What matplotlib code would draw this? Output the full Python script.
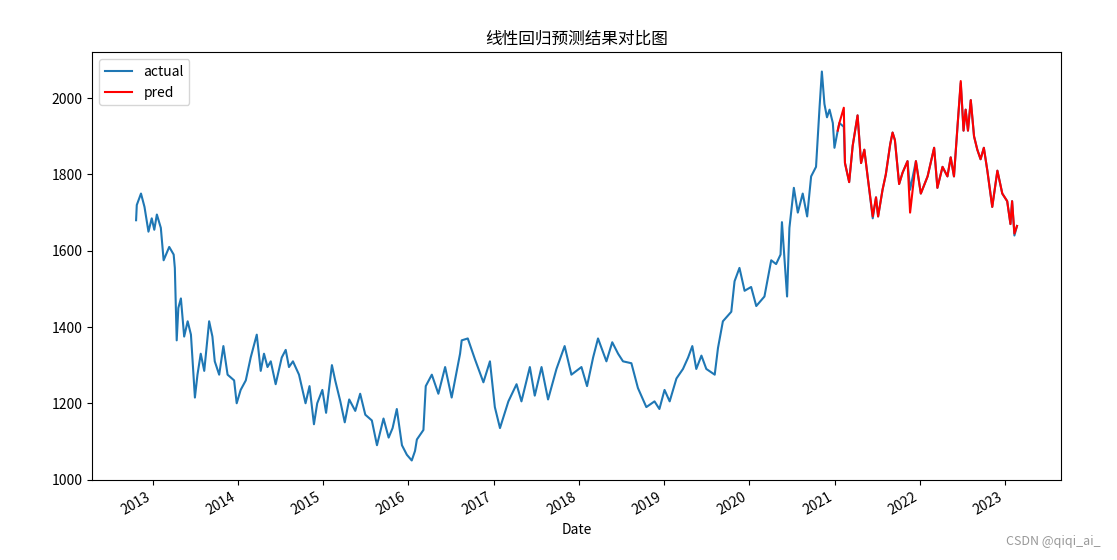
import pandas as pd
import matplotlib
matplotlib.use('Agg')
import matplotlib.pyplot as plt
import matplotlib.dates as mdates

plt.rcParams['font.family'] = ['Noto Sans CJK SC', 'DejaVu Sans']
plt.rcParams['axes.unicode_minus'] = False

# actual price
dates = (
    ['2012-10-22', '2012-10-25', '2012-11-12', '2012-11-27', '2012-12-14', '2012-12-28'] +
    ['2013-01-08', '2013-01-19', '2013-02-05', '2013-02-17', '2013-03-13', '2013-04-01', '2013-04-06',
     '2013-04-14', '2013-04-21', '2013-05-02', '2013-05-16', '2013-05-31', '2013-06-14', '2013-06-25',
     '2013-07-01', '2013-07-12', '2013-07-26', '2013-08-10', '2013-08-31', '2013-09-14', '2013-09-24',
     '2013-10-13', '2013-10-31', '2013-11-18', '2013-12-16', '2013-12-27'] +
    ['2014-01-13', '2014-02-04', '2014-02-25', '2014-03-23', '2014-04-09', '2014-04-23', '2014-05-08',
     '2014-05-22', '2014-06-12', '2014-07-08', '2014-07-25', '2014-08-08', '2014-08-25', '2014-09-20',
     '2014-10-18', '2014-11-04', '2014-11-23', '2014-12-07', '2014-12-29'] +
    ['2015-01-14', '2015-02-08', '2015-02-22', '2015-03-16', '2015-04-04', '2015-04-23', '2015-05-19',
     '2015-06-09', '2015-07-01', '2015-07-29', '2015-08-20', '2015-09-17', '2015-10-09', '2015-10-26',
     '2015-11-13', '2015-12-05', '2015-12-26'] +
    ['2016-01-16', '2016-01-30', '2016-02-07', '2016-03-06', '2016-03-16', '2016-04-11', '2016-05-09',
     '2016-06-07', '2016-07-05', '2016-08-10', '2016-08-17', '2016-09-12', '2016-10-13', '2016-11-18',
     '2016-12-16'] +
    ['2017-01-06', '2017-01-28', '2017-03-05', '2017-04-09', '2017-04-30', '2017-06-05', '2017-06-26',
     '2017-07-25', '2017-08-22', '2017-09-27', '2017-11-01', '2017-11-30'] +
    ['2018-01-12', '2018-02-05', '2018-03-03', '2018-03-24', '2018-04-29', '2018-05-24', '2018-06-18',
     '2018-07-09', '2018-08-14', '2018-09-11', '2018-10-17', '2018-11-21', '2018-12-12'] +
    ['2019-01-03', '2019-01-25', '2019-02-23', '2019-03-23', '2019-04-14', '2019-05-02', '2019-05-19',
     '2019-06-10', '2019-07-01', '2019-08-06', '2019-08-20', '2019-09-10', '2019-10-16', '2019-10-30',
     '2019-11-20', '2019-12-12'] +
    ['2020-01-09', '2020-01-31', '2020-03-06', '2020-04-04', '2020-04-25', '2020-05-14', '2020-05-20',
     '2020-06-11', '2020-06-21', '2020-07-10', '2020-07-27', '2020-08-17', '2020-09-05', '2020-09-22',
     '2020-10-13', '2020-10-28', '2020-11-07', '2020-11-18', '2020-11-29', '2020-12-10', '2020-12-24',
     '2020-12-31'] +
    ['2021-01-14', '2021-01-21', '2021-02-09', '2021-02-14', '2021-03-04', '2021-03-19', '2021-04-09',
     '2021-04-24', '2021-05-08', '2021-05-22', '2021-06-13', '2021-06-27', '2021-07-06', '2021-07-25',
     '2021-08-08', '2021-08-27', '2021-09-06', '2021-09-16', '2021-10-04', '2021-10-19', '2021-11-09',
     '2021-11-20', '2021-12-15'] +
    ['2022-01-05', '2022-02-03', '2022-03-03', '2022-03-17', '2022-04-08', '2022-04-29', '2022-05-13',
     '2022-05-27', '2022-06-11', '2022-06-25', '2022-07-07', '2022-07-16', '2022-07-26', '2022-08-07',
     '2022-08-21', '2022-09-04', '2022-09-18', '2022-10-02', '2022-10-17', '2022-11-07', '2022-11-29',
     '2022-12-20'] +
    ['2023-01-10', '2023-01-24', '2023-01-31', '2023-02-10', '2023-02-21']
)

actual = (
    [1680, 1720, 1750, 1715, 1650, 1685] +
    [1655, 1695, 1660, 1575, 1610, 1590, 1555, 1365, 1450, 1475, 1375, 1415, 1380, 1275,
     1215, 1275, 1330, 1285, 1415, 1375, 1310, 1275, 1350, 1275, 1260, 1200] +
    [1235, 1260, 1320, 1380, 1285, 1330, 1295, 1310, 1250, 1320, 1340, 1295, 1310, 1275,
     1200, 1245, 1145, 1200, 1235] +
    [1175, 1300, 1260, 1205, 1150, 1210, 1180, 1225, 1170, 1155, 1090, 1160, 1110, 1135,
     1185, 1090, 1065] +
    [1050, 1075, 1105, 1130, 1245, 1275, 1225, 1295, 1215, 1330, 1365, 1370, 1315, 1255, 1310] +
    [1190, 1135, 1205, 1250, 1205, 1295, 1220, 1295, 1210, 1290, 1350, 1275] +
    [1295, 1245, 1320, 1370, 1310, 1360, 1330, 1310, 1305, 1240, 1190, 1205, 1185] +
    [1235, 1205, 1265, 1290, 1320, 1350, 1290, 1325, 1290, 1275, 1345, 1415, 1440, 1520,
     1555, 1495] +
    [1505, 1455, 1480, 1575, 1565, 1590, 1675, 1480, 1660, 1765, 1700, 1750, 1690, 1795,
     1820, 1975, 2070, 1985, 1950, 1970, 1935, 1870] +
    [1915, 1935, 1925, 1830, 1780, 1875, 1955, 1830, 1865, 1795, 1685, 1740, 1690, 1760,
     1800, 1880, 1910, 1890, 1775, 1805, 1835, 1760, 1835] +
    [1750, 1795, 1870, 1765, 1820, 1795, 1845, 1795, 1925, 2040, 1915, 1970, 1915, 1995,
     1900, 1865, 1840, 1870, 1810, 1715, 1810, 1750] +
    [1730, 1670, 1730, 1640, 1665]
)

# linear regression prediction on the test period (last 50 dates)
pred = [1915, 1935, 1975, 1830, 1780, 1875, 1955, 1830, 1865, 1795, 1690, 1740, 1690, 1760,
        1800, 1880, 1910, 1890, 1775, 1805, 1835, 1700, 1835,
        1750, 1795, 1870, 1765, 1820, 1795, 1845, 1795, 1925, 2045, 1915, 1970, 1915, 1995,
        1900, 1865, 1840, 1870, 1810, 1715, 1810, 1750,
        1730, 1670, 1730, 1645, 1665]

df = pd.DataFrame({'actual': actual}, index=pd.to_datetime(dates))
df.index.name = 'Date'
pred_s = pd.Series(pred, index=df.index[-len(pred):])

fig = plt.figure(figsize=(11.17, 5.6), dpi=100)
ax = fig.add_axes([0.0824, 0.143, 0.8675, 0.764])
ax.plot(df.index, df['actual'], color='#1f77b4', linewidth=1.5, label='actual')
ax.plot(pred_s.index, pred_s.values, color='red', linewidth=1.5, label='pred')

ax.xaxis.set_major_locator(mdates.YearLocator())
ax.xaxis.set_major_formatter(mdates.DateFormatter('%Y'))
for lbl in ax.get_xticklabels():
    lbl.set_rotation(30)
    lbl.set_ha('right')
ax.set_xlabel('Date')
ax.set_title('线性回归预测结果对比图')
ax.legend(loc='upper left')

fig.text(0.985, 0.022, 'CSDN @qiqi_ai_', color='#999999', fontsize=9, ha='right', va='bottom')

fig.savefig('out.png', dpi=100, facecolor='white')
